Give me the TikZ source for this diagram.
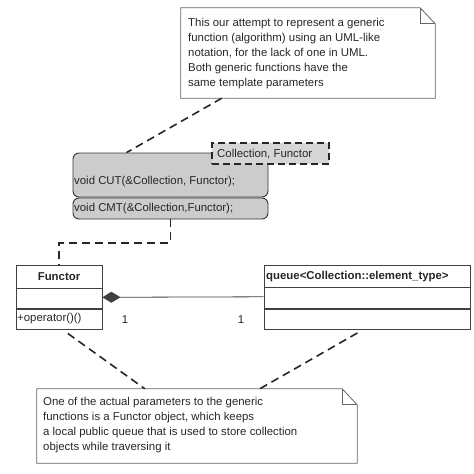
\documentclass[tikz,border=0pt]{standalone}
\usepackage{fontspec}
\setmainfont{Liberation Sans}
\usetikzlibrary{arrows.meta,calc}
\begin{document}
\begin{tikzpicture}[x=1pt,y=-1pt,
  every node/.style={font=\fontsize{11.4}{15}\selectfont, text=black!85},
  notebox/.style={draw=none, inner sep=0pt},
  noteline/.style={draw=black!60, line width=0.8pt, line join=miter},
  txt/.style={inner sep=0pt, align=left},
  graybox/.style={draw=black!80, line width=0.9pt, fill=black!20, rounded corners=6pt, inner sep=0pt},
  parambox/.style={draw=black!85, line width=1.5pt, dash pattern=on 7pt off 4pt, fill=black!16, inner sep=0pt},
  classpart/.style={draw=black!75, line width=0.8pt, inner sep=0pt},
  conn/.style={draw=black!85, line width=1.6pt, dash pattern=on 8pt off 5pt},
  assoc/.style={draw=black!75, line width=0.8pt}
]
\useasboundingbox (0,0) rectangle (474,474);

% top note
\node[notebox, minimum width=254pt, minimum height=90pt] (tn) at (308,53) {};
\draw[noteline] (tn.north west) -- ($(tn.north east)+(-15,0)$) -- ($(tn.north east)+(0,16)$) -- (tn.south east) -- (tn.south west) -- cycle;
\draw[noteline] ($(tn.north east)+(-15,0)$) |- ($(tn.north east)+(0,16)$);
\node[txt, anchor=north west] (tnt) at (188,18.5) {This our attempt to represent a generic\\function (algorithm) using an UML-like\\notation, for the lack of one in UML.\\Both generic functions have the\\same template parameters};

% generic function boxes
\node[graybox, minimum width=195pt, minimum height=44pt] (cut) at (170.5,175) {};
\node[txt, anchor=west] (cutt) at (74,182) {void CUT(\&Collection, Functor);};
\node[graybox, minimum width=195pt, minimum height=21pt] (cmt) at (170.5,208.5) {};
\node[txt, anchor=west] (cmtt) at (74,209) {void CMT(\&Collection,Functor);};
\node[parambox, minimum width=117pt, minimum height=21pt] (par) at (270.5,153.5) {};
\node[txt, anchor=west] (part) at (217,154) {Collection, Functor};

% Functor class
\node[classpart, minimum width=86pt, minimum height=23pt] (fnn) at (59,276.5) {\textbf{Functor}};
\node[classpart, minimum width=86pt, minimum height=20pt, anchor=north] (fna) at (fnn.south) {};
\node[classpart, minimum width=86pt, minimum height=20pt, anchor=north] (fno) at (fna.south) {};
\node[txt, anchor=west] (fnot) at (17,318.5) {+operator()()};

% queue class
\node[classpart, minimum width=206pt, minimum height=22pt] (qn) at (367,276) {};
\node[txt, anchor=west] (qnt) at (266,277) {\textbf{queue<Collection::element\_type>}};
\node[classpart, minimum width=206pt, minimum height=21pt, anchor=north] (qa) at (qn.south) {};
\node[classpart, minimum width=206pt, minimum height=20pt, anchor=north] (qo) at (qa.south) {};

% composition
\draw[assoc, -{Diamond[length=18pt,width=11pt]}] ($(qa.west)+(0,-1.5)$) -- ($(fna.east)+(0,-1.5)$);
\node (m1) at (125,320) {1};
\node (m2) at (241,320) {1};

% bottom note
\node[notebox, minimum width=320pt, minimum height=74pt] (bn) at (197,426) {};
\draw[noteline] (bn.north west) -- ($(bn.north east)+(-15,0)$) -- ($(bn.north east)+(0,16)$) -- (bn.south east) -- (bn.south west) -- cycle;
\draw[noteline] ($(bn.north east)+(-15,0)$) |- ($(bn.north east)+(0,16)$);
\node[txt, anchor=north west] (bnt) at (43,397.5) {One of the actual parameters to the generic\\functions is a Functor object, which keeps\\a local public queue that is used to store collection\\objects while traversing it};

% dashed connectors
\coordinate (tnA) at ($(tn.south west)+(41,0)$);
\coordinate (cutA) at ($(cut.north west)+(54,0)$);
\draw[conn] (tnA) -- (cutA);
\coordinate (bend) at (100,243);
\draw[conn] (cmt.south) |- (bend) -| (fnn.north);
\coordinate (fnB) at ($(fno.south)+(4,0)$);
\coordinate (bnA) at ($(bn.north west)+(108,0)$);
\draw[conn, shorten <=6pt] (fnB) -- (bnA);
\coordinate (qB) at ($(qo.south west)+(99,0)$);
\coordinate (bnB) at ($(bn.north west)+(223,0)$);
\draw[conn, shorten <=6pt] (qB) -- (bnB);
\end{tikzpicture}
\end{document}
